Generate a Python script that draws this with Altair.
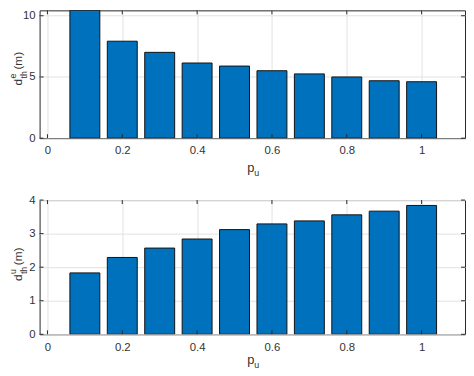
import altair as alt
import pandas as pd

# ---- data ----
p_values = [0.1, 0.2, 0.3, 0.4, 0.5, 0.6, 0.7, 0.8, 0.9, 1.0]
d_e = [10.44, 7.92, 7.01, 6.14, 5.89, 5.51, 5.25, 5.00, 4.69, 4.61]
d_u = [1.83, 2.29, 2.57, 2.84, 3.12, 3.29, 3.38, 3.56, 3.67, 3.84]
x_ticks = [0, 0.2, 0.4, 0.6, 0.8, 1]
y_ticks_top = [0, 5, 10]
y_ticks_bottom = [0, 1, 2, 3, 4]

FONT = "Liberation Sans"
AX = "#262626"
LBL = "#333333"
GRID = "#E2E2E2"
BAR = "#0072BD"
W = 431


def txt(s, x, y, size, angle=0):
    kw = dict(text=s, align="left", baseline="alphabetic", fontSize=size,
              font=FONT, color=LBL)
    if angle:
        kw["angle"] = angle
    return alt.Chart(pd.DataFrame({"s": [s]})).mark_text(**kw).encode(
        x=alt.value(x), y=alt.value(y))


def panel(values, ydom, yticks, H, sup, yt_shift, xt_base):
    df = pd.DataFrame({"p": p_values, "v": values})
    xs = alt.Scale(domain=[-0.021, 1.116], nice=False, zero=False)
    ys = alt.Scale(domain=ydom, nice=False, zero=True)
    xaxis = alt.Axis(values=x_ticks, title=None, grid=True, gridColor=GRID,
                     ticks=False, domain=False, labelPadding=7, labelFontSize=11.5,
                     labelFont=FONT, labelColor=LBL, format=".1~f",
                     labelOverlap=False)
    yaxis = alt.Axis(values=yticks, tickCount=len(yticks), title=None, grid=True,
                     gridColor=GRID, ticks=False, domain=False, labelPadding=4.5,
                     labelFontSize=11.5, labelFont=FONT, labelColor=LBL,
                     format="d", labelOverlap=False)
    bars = alt.Chart(df).transform_calculate(
        x0="datum.p - 0.04", x1="datum.p + 0.04"
    ).mark_bar(color=BAR, stroke="#111111", strokeWidth=1, clip=True).encode(
        x=alt.X("x0:Q", scale=xs, axis=xaxis),
        x2="x1:Q",
        y=alt.Y("v:Q", scale=ys, axis=yaxis),
        y2=alt.datum(0),
    )
    xt = pd.DataFrame({"t": x_ticks})
    yt = pd.DataFrame({"t": yticks})
    xtick_b = alt.Chart(xt).mark_rule(color=AX).encode(
        x=alt.X("t:Q", scale=xs, axis=xaxis), y=alt.value(H), y2=alt.value(H - 4))
    xtick_t = alt.Chart(xt).mark_rule(color=AX).encode(
        x=alt.X("t:Q", scale=xs, axis=xaxis), y=alt.value(0), y2=alt.value(4))
    ytick_l = alt.Chart(yt).mark_rule(color=AX).encode(
        y=alt.Y("t:Q", scale=ys, axis=yaxis), x=alt.value(0), x2=alt.value(4))
    ytick_r = alt.Chart(yt).mark_rule(color=AX).encode(
        y=alt.Y("t:Q", scale=ys, axis=yaxis), x=alt.value(W - 4), x2=alt.value(W))
    s = yt_shift
    titles = [
        txt("d", -18.1, 82 + s, 12, 270),
        txt(sup, -23.6, 75 + s, 9, 270),
        txt("th", -13.1, 75 + s, 9, 270),
        txt("(m)", -18.1, 66 + s, 12, 270),
        txt("p", 210.5, H + xt_base, 13),
        txt("u", 217.5, H + xt_base + 4, 9),
    ]
    return alt.layer(bars, xtick_b, xtick_t, ytick_l, ytick_r, *titles).properties(
        width=W, height=H)


top = panel(d_e, [0, 10.44], y_ticks_top, 129.5, "e", -6, 34)
bottom = panel(d_u, [0, 4], y_ticks_bottom, 136, "u", 0, 30)

chart = alt.vconcat(top, bottom, spacing=62.2, bounds="flush").properties(
    padding={"left": 0, "top": -2, "right": 0, "bottom": 0},
    background="white",
).configure_view(stroke=AX, strokeWidth=1)

chart.save("out.html", embed_options={"renderer": "svg", "actions": False})
